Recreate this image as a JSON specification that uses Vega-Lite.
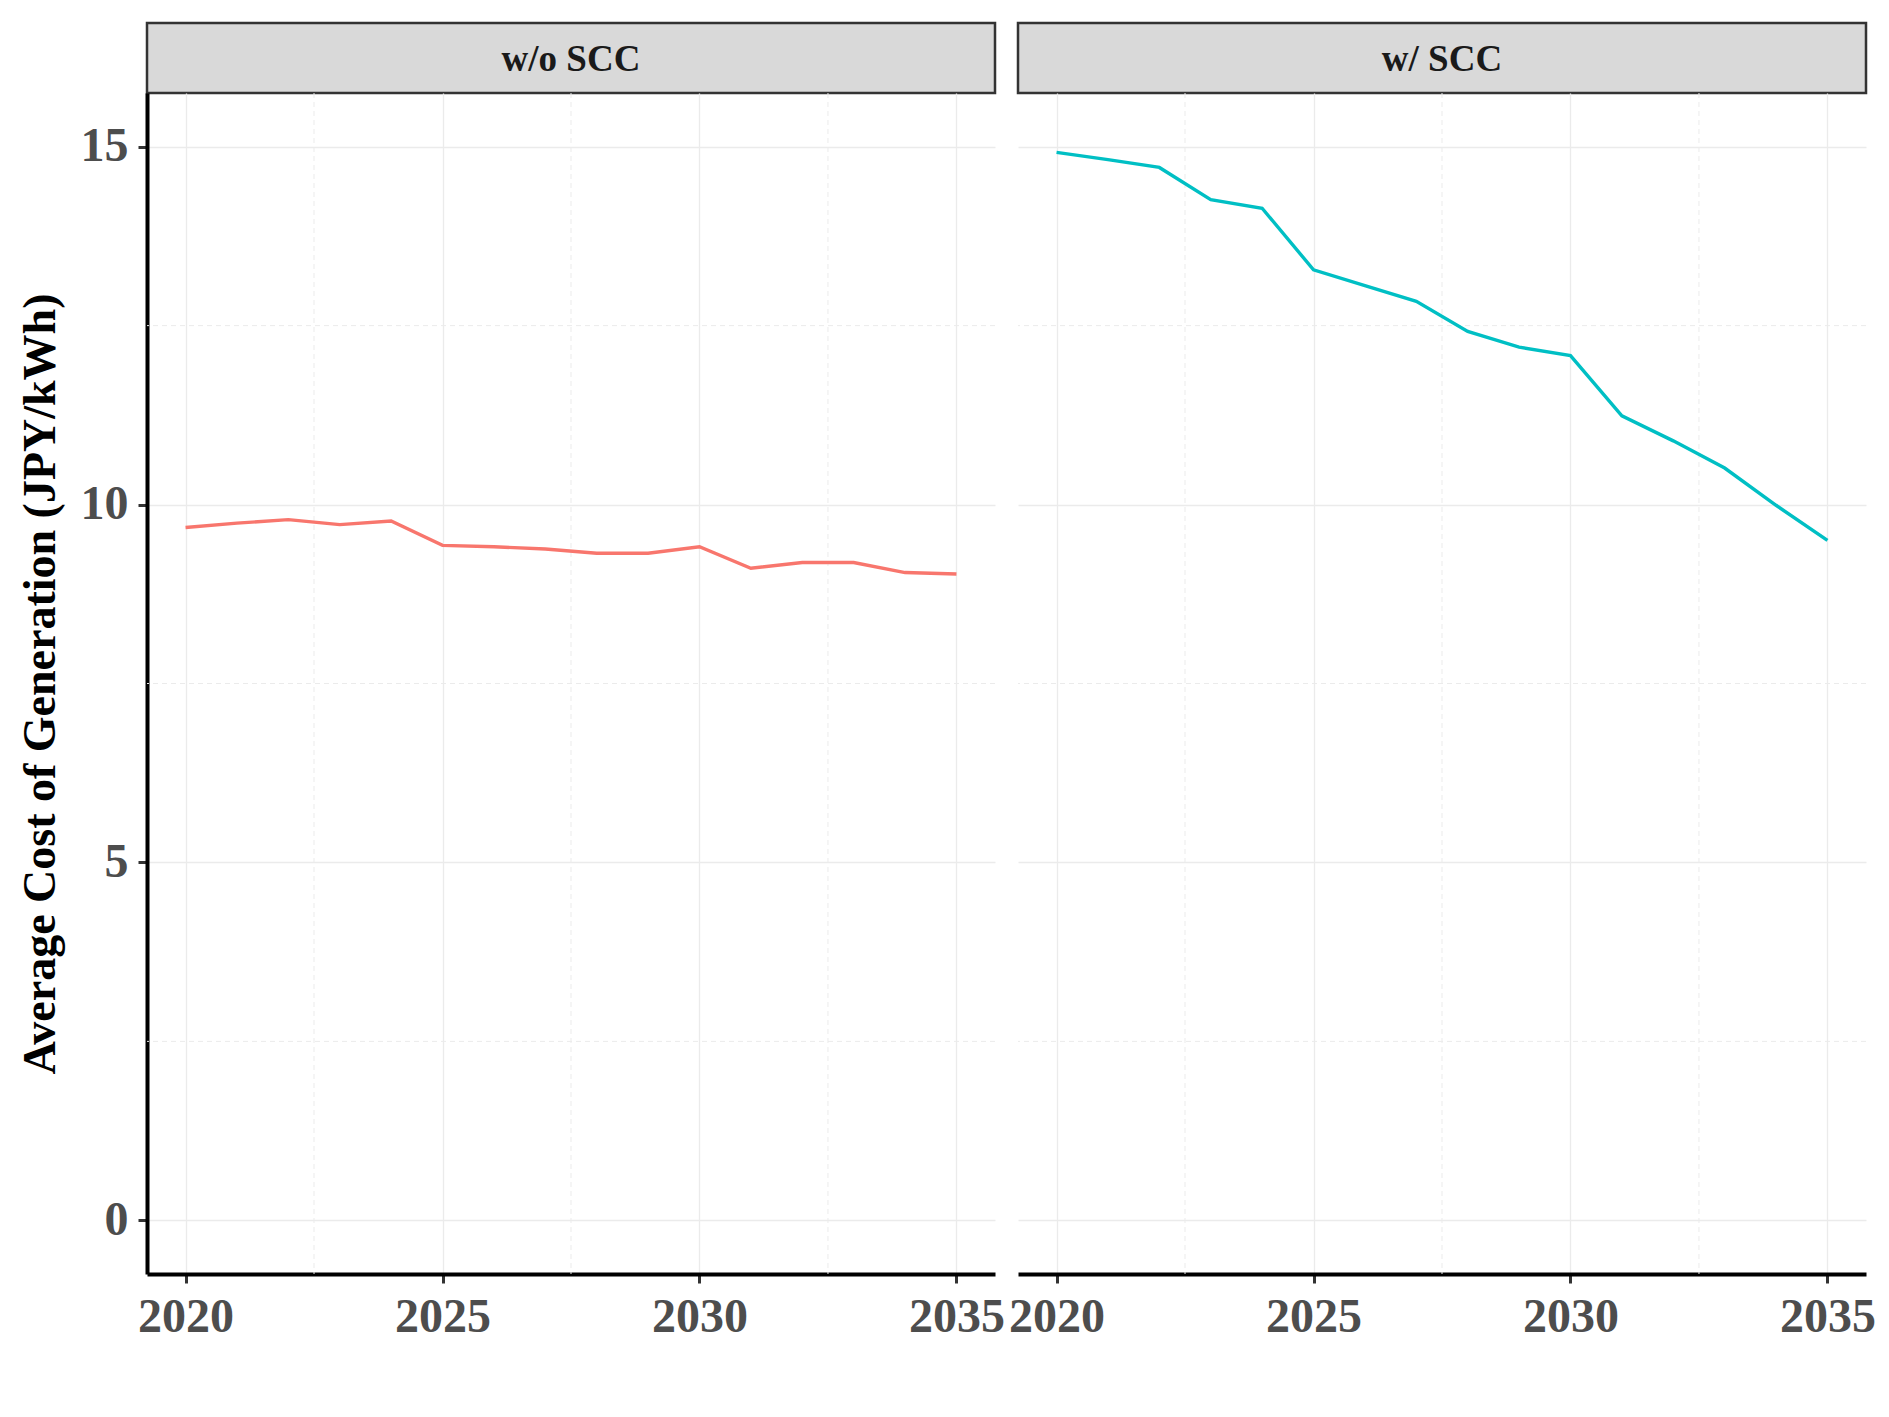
{
  "$schema": "https://vega.github.io/schema/vega-lite/v6.json",
  "background": "white",
  "padding": {"left": 17, "top": 21, "right": 10, "bottom": 10},
  "config": {
    "font": "Liberation Serif",
    "view": {"stroke": null},
    "axis": {
      "labelFont": "Liberation Serif",
      "labelFontSize": 48,
      "labelFontWeight": "bold",
      "labelColor": "#4D4D4D",
      "labelPadding": 10,
      "labelFlush": false,
      "labelOverlap": false,
      "tickColor": "#333333",
      "tickWidth": 3,
      "tickSize": 9,
      "domainColor": "black",
      "domainWidth": 4,
      "gridColor": "#EBEBEB",
      "gridWidth": 1.3,
      "titleFont": "Liberation Serif",
      "titleFontSize": 46,
      "titleFontWeight": "bold",
      "titleColor": "black"
    }
  },
  "datasets": {
    "costs": [
      {"year": 2020, "cost": 9.68, "scenario": "w/o SCC"},
      {"year": 2021, "cost": 9.74, "scenario": "w/o SCC"},
      {"year": 2022, "cost": 9.79, "scenario": "w/o SCC"},
      {"year": 2023, "cost": 9.72, "scenario": "w/o SCC"},
      {"year": 2024, "cost": 9.77, "scenario": "w/o SCC"},
      {"year": 2025, "cost": 9.43, "scenario": "w/o SCC"},
      {"year": 2026, "cost": 9.41, "scenario": "w/o SCC"},
      {"year": 2027, "cost": 9.38, "scenario": "w/o SCC"},
      {"year": 2028, "cost": 9.32, "scenario": "w/o SCC"},
      {"year": 2029, "cost": 9.32, "scenario": "w/o SCC"},
      {"year": 2030, "cost": 9.41, "scenario": "w/o SCC"},
      {"year": 2031, "cost": 9.11, "scenario": "w/o SCC"},
      {"year": 2032, "cost": 9.19, "scenario": "w/o SCC"},
      {"year": 2033, "cost": 9.19, "scenario": "w/o SCC"},
      {"year": 2034, "cost": 9.05, "scenario": "w/o SCC"},
      {"year": 2035, "cost": 9.03, "scenario": "w/o SCC"},
      {"year": 2020, "cost": 14.92, "scenario": "w/ SCC"},
      {"year": 2021, "cost": 14.82, "scenario": "w/ SCC"},
      {"year": 2022, "cost": 14.71, "scenario": "w/ SCC"},
      {"year": 2023, "cost": 14.26, "scenario": "w/ SCC"},
      {"year": 2024, "cost": 14.14, "scenario": "w/ SCC"},
      {"year": 2025, "cost": 13.28, "scenario": "w/ SCC"},
      {"year": 2026, "cost": 13.06, "scenario": "w/ SCC"},
      {"year": 2027, "cost": 12.84, "scenario": "w/ SCC"},
      {"year": 2028, "cost": 12.42, "scenario": "w/ SCC"},
      {"year": 2029, "cost": 12.2, "scenario": "w/ SCC"},
      {"year": 2030, "cost": 12.08, "scenario": "w/ SCC"},
      {"year": 2031, "cost": 11.24, "scenario": "w/ SCC"},
      {"year": 2032, "cost": 10.89, "scenario": "w/ SCC"},
      {"year": 2033, "cost": 10.51, "scenario": "w/ SCC"},
      {"year": 2034, "cost": 9.99, "scenario": "w/ SCC"},
      {"year": 2035, "cost": 9.5, "scenario": "w/ SCC"}
    ],
    "strips": [{"panel": "w/o SCC"}, {"panel": "w/ SCC"}],
    "minorY": [{"v": 2.5}, {"v": 7.5}, {"v": 12.5}],
    "minorX": [{"v": 2022.5}, {"v": 2027.5}, {"v": 2032.5}]
  },
  "columns": 2,
  "spacing": {"row": 0, "column": 23},
  "bounds": "flush",
  "concat": [
    {
      "width": 848,
      "height": 70,
      "data": {"name": "strips"},
      "transform": [{"filter": "datum.panel === 'w/o SCC'"}],
      "view": {"fill": "#D9D9D9", "stroke": "#333333", "strokeWidth": 2.5},
      "mark": {"type": "text", "font": "Liberation Serif", "fontSize": 37, "fontWeight": "bold", "color": "#1A1A1A", "dy": 2},
      "encoding": {"text": {"field": "panel", "type": "nominal"}}
    },
    {
      "width": 848,
      "height": 70,
      "data": {"name": "strips"},
      "transform": [{"filter": "datum.panel === 'w/ SCC'"}],
      "view": {"fill": "#D9D9D9", "stroke": "#333333", "strokeWidth": 2.5},
      "mark": {"type": "text", "font": "Liberation Serif", "fontSize": 37, "fontWeight": "bold", "color": "#1A1A1A", "dy": 2},
      "encoding": {"text": {"field": "panel", "type": "nominal"}}
    },
    {
      "width": 848,
      "height": 1181,
      "layer": [
        {
          "data": {"name": "minorY"},
          "mark": {"type": "rule", "color": "#EBEBEB", "strokeWidth": 1, "strokeDash": [5, 4]},
          "encoding": {"y": {"field": "v", "type": "quantitative", "scale": {"domain": [-0.75, 15.75], "nice": false, "zero": false}}}
        },
        {
          "data": {"name": "minorX"},
          "mark": {"type": "rule", "color": "#EBEBEB", "strokeWidth": 1, "strokeDash": [5, 4]},
          "encoding": {"x": {"field": "v", "type": "quantitative", "scale": {"domain": [2019.25, 2035.75], "nice": false, "zero": false}}}
        },
        {
          "data": {"name": "costs"},
          "transform": [{"filter": "datum.scenario === 'w/o SCC'"}],
          "mark": {"type": "line", "strokeWidth": 3.4, "color": "#F8766D"},
          "encoding": {
            "x": {"field": "year", "type": "quantitative", "scale": {"domain": [2019.25, 2035.75], "nice": false, "zero": false},
                  "axis": {"values": [2020, 2025, 2030, 2035], "format": "d", "title": null, "grid": true}},
            "y": {"field": "cost", "type": "quantitative", "scale": {"domain": [-0.75, 15.75], "nice": false, "zero": false},
                  "axis": {"values": [0, 5, 10, 15], "format": "d", "title": "Average Cost of Generation (JPY/kWh)", "titlePadding": 16, "grid": true}}
          }
        }
      ]
    },
    {
      "width": 848,
      "height": 1181,
      "layer": [
        {
          "data": {"name": "minorY"},
          "mark": {"type": "rule", "color": "#EBEBEB", "strokeWidth": 1, "strokeDash": [5, 4]},
          "encoding": {"y": {"field": "v", "type": "quantitative", "scale": {"domain": [-0.75, 15.75], "nice": false, "zero": false}}}
        },
        {
          "data": {"name": "minorX"},
          "mark": {"type": "rule", "color": "#EBEBEB", "strokeWidth": 1, "strokeDash": [5, 4]},
          "encoding": {"x": {"field": "v", "type": "quantitative", "scale": {"domain": [2019.25, 2035.75], "nice": false, "zero": false}}}
        },
        {
          "data": {"name": "costs"},
          "transform": [{"filter": "datum.scenario === 'w/ SCC'"}],
          "mark": {"type": "line", "strokeWidth": 3.4, "color": "#00BFC4"},
          "encoding": {
            "x": {"field": "year", "type": "quantitative", "scale": {"domain": [2019.25, 2035.75], "nice": false, "zero": false},
                  "axis": {"values": [2020, 2025, 2030, 2035], "format": "d", "title": null, "grid": true}},
            "y": {"field": "cost", "type": "quantitative", "scale": {"domain": [-0.75, 15.75], "nice": false, "zero": false},
                  "axis": {"values": [0, 5, 10, 15], "title": null, "grid": true, "labels": false, "ticks": false, "domain": false}}
          }
        }
      ]
    }
  ]
}
